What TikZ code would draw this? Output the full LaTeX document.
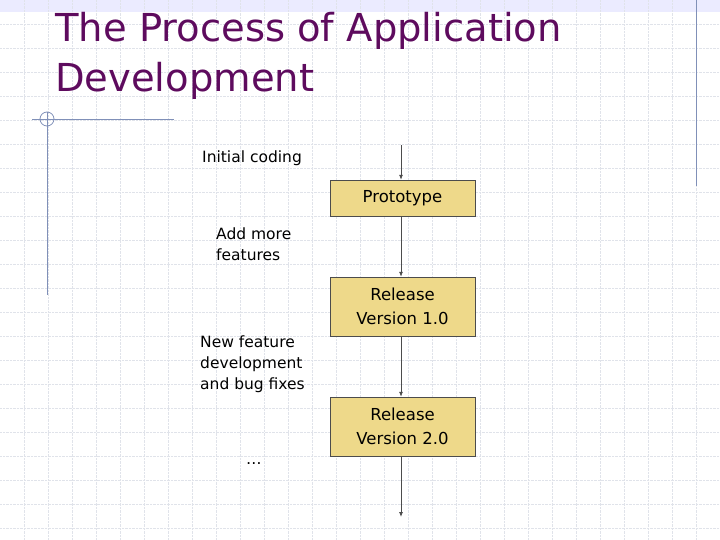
\documentclass[tikz,border=0pt]{standalone}
\usepackage{fontspec}
\setmainfont{DejaVu Sans}
\usetikzlibrary{arrows.meta}
\definecolor{titlec}{HTML}{5E0B5E}
\definecolor{boxc}{HTML}{EED98A}
\definecolor{gridc}{HTML}{E0E3EA}
\definecolor{decor}{HTML}{8090B8}
\begin{document}
\begin{tikzpicture}[x=1pt,y=-1pt,
  box/.style={draw=black!70,fill=boxc,minimum width=145pt,align=center,font=\fontsize{16.5}{24}\selectfont,inner sep=0pt},
  lbl/.style={anchor=north west,align=left,font=\fontsize{15.5}{21}\selectfont,inner sep=0pt},
  flow/.style={draw=black!70,line width=0.8pt,-{Latex[length=5pt,width=4pt]}}]
\useasboundingbox (0,0) rectangle (720,540);
\fill[blue!8] (0,0) rectangle (720,12);
\foreach \x in {24,48,...,696} \draw[gridc,densely dotted] (\x,0) -- (\x,540);
\foreach \y in {24,48,...,528} \draw[gridc,densely dotted] (0,\y) -- (720,\y);
\draw[decor,line width=0.8pt] (696,0) -- (696,186);
\draw[decor,line width=0.8pt] (32,119) -- (174,119);
\draw[decor,line width=0.8pt] (47,112) -- (47,295);
\draw[decor,line width=0.8pt] (47,119) circle (7);
\node[anchor=north west,inner sep=0pt,text=titlec,align=left,font=\fontsize{38.5}{50}\selectfont] (title) at (55,12) {The Process of Application\\Development};
\coordinate (top) at (401,145);
\coordinate (bot) at (401,517);
\node[box,minimum height=36pt] (p) at (402.5,198) {Prototype};
\node[box,minimum height=59pt] (r1) at (402.5,306.5) {Release\\Version 1.0};
\node[box,minimum height=59pt] (r2) at (402.5,426.5) {Release\\Version 2.0};
\draw[flow] (top) -- (p.north -| top);
\draw[flow] (p.south -| top) -- (r1.north -| top);
\draw[flow] (r1.south -| top) -- (r2.north -| top);
\draw[flow] (r2.south -| top) -- (bot);
\node[lbl] (l1) at (202,151) {Initial coding};
\node[lbl] (l2) at (216,228) {Add more\\features};
\node[lbl] (l3) at (200,336) {New feature\\development\\and bug fixes};
\node[lbl] (l4) at (246,462) {\dots};
\end{tikzpicture}
\end{document}
